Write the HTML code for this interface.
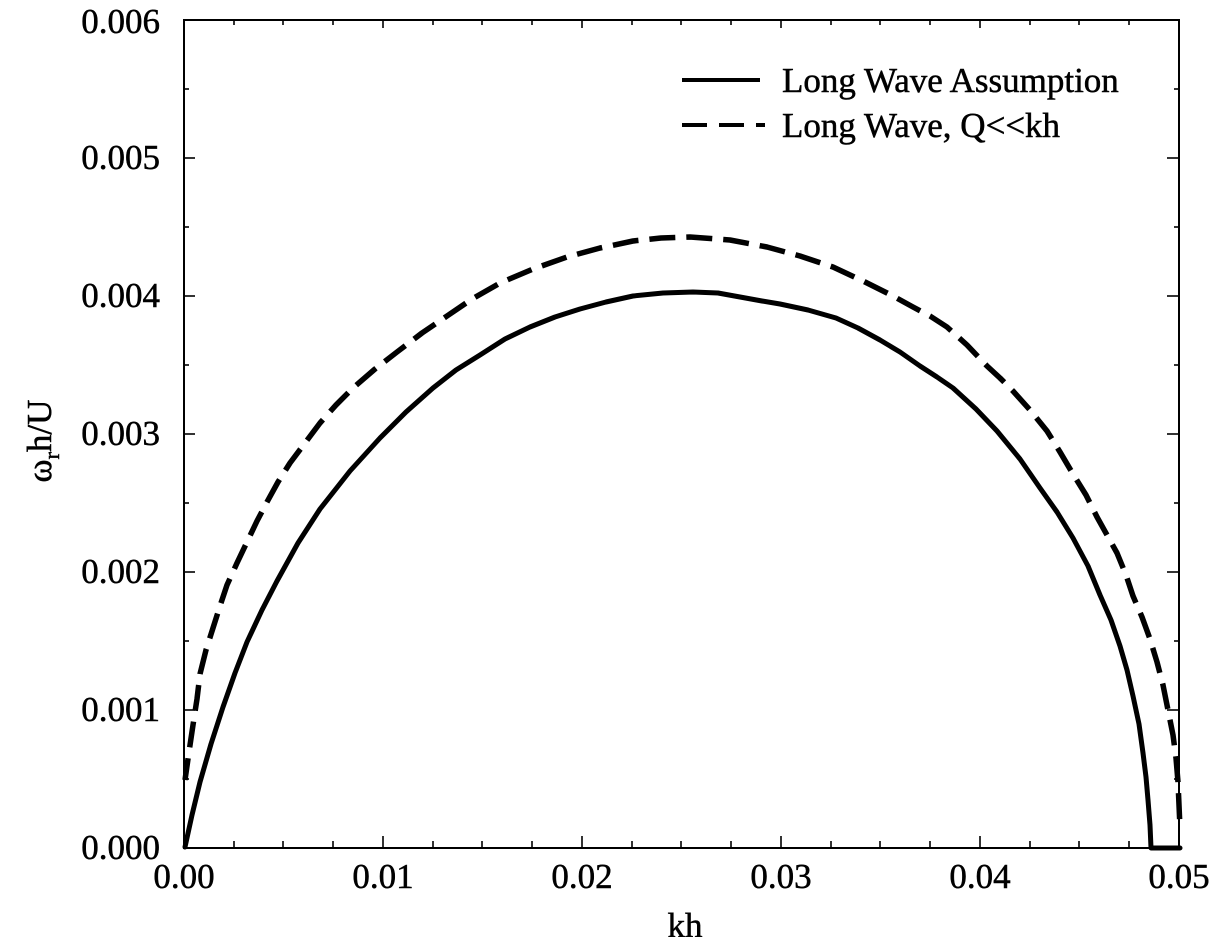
<!DOCTYPE html>
<html>
<head>
<meta charset="utf-8">
<style>
html,body{margin:0;padding:0;background:#fff;}
svg{display:block;}
text{font-family:"Liberation Serif","DejaVu Serif",serif;fill:#000;stroke:#000;stroke-width:0.5;}
</style>
</head>
<body>
<svg width="1210" height="937" viewBox="0 0 1210 937" xmlns="http://www.w3.org/2000/svg">
<rect x="0" y="0" width="1210" height="937" fill="#fff"/>
<!-- axes frame -->
<rect x="184" y="20" width="995" height="828" fill="none" stroke="#000" stroke-width="2"/>

<!-- bottom ticks -->
<g stroke="#000" stroke-width="1.6">
<line x1="234" y1="848" x2="234" y2="841"/>
<line x1="283" y1="848" x2="283" y2="841"/>
<line x1="333" y1="848" x2="333" y2="841"/>
<line x1="383" y1="848" x2="383" y2="836"/>
<line x1="433" y1="848" x2="433" y2="841"/>
<line x1="482" y1="848" x2="482" y2="841"/>
<line x1="532" y1="848" x2="532" y2="841"/>
<line x1="582" y1="848" x2="582" y2="836"/>
<line x1="632" y1="848" x2="632" y2="841"/>
<line x1="681" y1="848" x2="681" y2="841"/>
<line x1="731" y1="848" x2="731" y2="841"/>
<line x1="781" y1="848" x2="781" y2="836"/>
<line x1="831" y1="848" x2="831" y2="841"/>
<line x1="880" y1="848" x2="880" y2="841"/>
<line x1="930" y1="848" x2="930" y2="841"/>
<line x1="980" y1="848" x2="980" y2="836"/>
<line x1="1030" y1="848" x2="1030" y2="841"/>
<line x1="1079" y1="848" x2="1079" y2="841"/>
<line x1="1129" y1="848" x2="1129" y2="841"/>
<!-- top ticks -->
<line x1="234" y1="20" x2="234" y2="25"/>
<line x1="283" y1="20" x2="283" y2="25"/>
<line x1="333" y1="20" x2="333" y2="25"/>
<line x1="383" y1="20" x2="383" y2="28"/>
<line x1="433" y1="20" x2="433" y2="25"/>
<line x1="482" y1="20" x2="482" y2="25"/>
<line x1="532" y1="20" x2="532" y2="25"/>
<line x1="582" y1="20" x2="582" y2="28"/>
<line x1="632" y1="20" x2="632" y2="25"/>
<line x1="681" y1="20" x2="681" y2="25"/>
<line x1="731" y1="20" x2="731" y2="25"/>
<line x1="781" y1="20" x2="781" y2="28"/>
<line x1="831" y1="20" x2="831" y2="25"/>
<line x1="880" y1="20" x2="880" y2="25"/>
<line x1="930" y1="20" x2="930" y2="25"/>
<line x1="980" y1="20" x2="980" y2="28"/>
<line x1="1030" y1="20" x2="1030" y2="25"/>
<line x1="1079" y1="20" x2="1079" y2="25"/>
<line x1="1129" y1="20" x2="1129" y2="25"/>
<!-- left ticks -->
<line x1="184" y1="779" x2="189" y2="779"/>
<line x1="184" y1="710" x2="195" y2="710"/>
<line x1="184" y1="641" x2="189" y2="641"/>
<line x1="184" y1="572" x2="195" y2="572"/>
<line x1="184" y1="503" x2="189" y2="503"/>
<line x1="184" y1="434" x2="195" y2="434"/>
<line x1="184" y1="365" x2="189" y2="365"/>
<line x1="184" y1="296" x2="195" y2="296"/>
<line x1="184" y1="227" x2="189" y2="227"/>
<line x1="184" y1="158" x2="195" y2="158"/>
<line x1="184" y1="89" x2="189" y2="89"/>
<!-- right ticks -->
<line x1="1179" y1="779" x2="1174" y2="779"/>
<line x1="1179" y1="710" x2="1167" y2="710"/>
<line x1="1179" y1="641" x2="1174" y2="641"/>
<line x1="1179" y1="572" x2="1167" y2="572"/>
<line x1="1179" y1="503" x2="1174" y2="503"/>
<line x1="1179" y1="434" x2="1167" y2="434"/>
<line x1="1179" y1="365" x2="1174" y2="365"/>
<line x1="1179" y1="296" x2="1167" y2="296"/>
<line x1="1179" y1="227" x2="1174" y2="227"/>
<line x1="1179" y1="158" x2="1167" y2="158"/>
<line x1="1179" y1="89" x2="1174" y2="89"/>
</g>

<!-- y tick labels -->
<g font-size="35" text-anchor="end">
<text x="160" y="859">0.000</text>
<text x="160" y="721">0.001</text>
<text x="160" y="583">0.002</text>
<text x="160" y="445">0.003</text>
<text x="160" y="307">0.004</text>
<text x="160" y="169">0.005</text>
<text x="160" y="33">0.006</text>
</g>

<!-- x tick labels -->
<g font-size="35" text-anchor="middle">
<text x="184" y="888">0.00</text>
<text x="383" y="888">0.01</text>
<text x="582" y="888">0.02</text>
<text x="781" y="888">0.03</text>
<text x="980" y="888">0.04</text>
<text x="1179" y="888">0.05</text>
</g>

<!-- axis titles -->
<text x="685" y="937" font-size="35" text-anchor="middle">kh</text>
<text transform="translate(51,441) rotate(-90)" font-size="35" text-anchor="middle">ω<tspan font-size="22" dy="8">r</tspan><tspan dy="-8">h/U</tspan></text>

<!-- solid curve -->
<polyline fill="none" stroke="#000" stroke-width="5" stroke-linejoin="round" stroke-linecap="round"
points="185,847 192,815 200,782 211,744 223,707 235,673 247,642 262,610 277,581 298,543 320,509 350,471 380,438 406,412 433,388 456,370 480,355 505,339 530,327 555,317 580,309 606,302 633,296 663,293 693,292 718,293 740,297 762,301 780,304 808,310 836,318 858,328 880,340 900,352 920,366 937,377 953,388 976,409 997,431 1020,459 1040,488 1057,512 1073,538 1088,566 1100,595 1111,620 1120,646 1127,670 1133,696 1139,724 1143,753 1146,777 1148,800 1150,825 1151,848 1180,848"/>

<!-- dashed curve -->
<polyline fill="none" stroke="#000" stroke-width="5.5" stroke-linejoin="round" stroke-dasharray="26,11" stroke-dashoffset="4"
points="185,780 189,752 193,725 197,699 200,674 206,650 213,628 220,606 227,585 237,563 247,542 257,521 267,502 278,482 290,463 305,443 320,423 336,405 353,388 375,369 397,352 422,333 447,316 472,299 500,283 533,269 567,257 600,248 633,241 661,238 690,237 730,240 767,247 800,256 833,267 863,281 893,296 913,307 930,316 947,327 967,345 987,366 1000,378 1013,391 1030,410 1047,431 1060,452 1073,474 1086,495 1097,517 1107,535 1117,553 1126,575 1133,596 1142,617 1150,639 1157,662 1163,685 1168,710 1173,735 1176,758 1178,782 1179,805 1180,828"/>

<!-- legend -->
<line x1="682" y1="80" x2="760" y2="80" stroke="#000" stroke-width="4"/>
<line x1="682" y1="125" x2="765" y2="125" stroke="#000" stroke-width="4" stroke-dasharray="25,12"/>
<text x="782" y="92" font-size="35">Long Wave Assumption</text>
<text x="782" y="137" font-size="35">Long Wave, Q&lt;&lt;kh</text>
</svg>
</body>
</html>
